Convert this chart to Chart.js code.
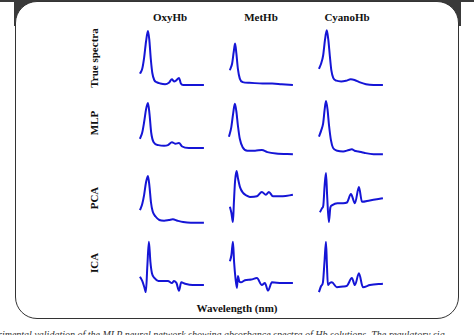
<!DOCTYPE html>
<html>
<head>
<meta charset="utf-8">
<script src="https://cdn.jsdelivr.net/npm/chart.js@4.4.1/dist/chart.umd.min.js"></script>
<style>
  html, body { margin: 0; padding: 0; }
  body { width: 474px; height: 335px; position: relative; overflow: hidden; background: #fff; font-family: "Liberation Serif", "DejaVu Serif", serif; }
  #topStrip { position: absolute; left: 0; top: 0; width: 474px; height: 2px; background: #3a3a3a; }
  #cornerFill { position: absolute; left: 14px; top: 0; width: 447px; height: 26px; background: #3a3a3a; }
  #frame { position: absolute; left: 15px; top: 1px; width: 442px; height: 316px; border: 1.5px solid #333; border-radius: 22px; background: #fff; }
  .lbl { position: absolute; font-weight: bold; font-size: 11px; color: #111; white-space: nowrap; }
  .col { transform: translateX(-50%); }
  .row { transform: translate(-50%, -50%) rotate(-90deg); }
  canvas { position: absolute; }
  #caption { position: absolute; left: -2px; top: 329px; font-style: italic; font-size: 10px; color: #333; white-space: nowrap; }
</style>
</head>
<body>
<div id="topStrip"></div>
<div id="cornerFill"></div>
<div id="frame"></div>
<div id="caption">rimental validation of the MLP neural network showing absorbance spectra of Hb solutions. The regulatory sig</div>

<script>
// column titles and row names
const hbTypes = ["OxyHb", "MetHb", "CyanoHb"];
const methods = ["True spectra", "MLP", "PCA", "ICA"];

// wavelength (nm) / normalised absorbance
const oxyTrueNm  = [373, 385, 395, 405, 415, 422, 430, 438, 448, 460, 480, 505, 525, 541, 552, 562, 578, 588, 600, 650, 709];
const oxyTrueAbs = [0.29, 0.36, 0.52, 0.75, 0.90, 0.78, 0.50, 0.30, 0.20, 0.17, 0.15, 0.14, 0.16, 0.21, 0.18, 0.19, 0.23, 0.15, 0.13, 0.13, 0.13];
const metTrueNm  = [378, 390, 398, 405, 412, 420, 430, 445, 480, 550, 600, 650, 709];
const metTrueAbs = [0.34, 0.44, 0.60, 0.72, 0.58, 0.36, 0.22, 0.17, 0.16, 0.15, 0.15, 0.14, 0.13];
const cyanoTrueNm  = [373, 385, 395, 405, 414, 422, 430, 438, 448, 465, 490, 515, 540, 560, 585, 620, 660, 709];
const cyanoTrueAbs = [0.36, 0.44, 0.55, 0.78, 0.91, 0.78, 0.55, 0.34, 0.23, 0.19, 0.18, 0.19, 0.21, 0.20, 0.17, 0.14, 0.13, 0.13];

const oxyMlpNm  = [373, 385, 395, 405, 415, 423, 432, 445, 470, 500, 520, 541, 560, 578, 595, 630, 709];
const oxyMlpAbs = [0.36, 0.45, 0.60, 0.78, 0.87, 0.72, 0.45, 0.31, 0.27, 0.26, 0.27, 0.31, 0.29, 0.30, 0.25, 0.23, 0.23];
const metMlpNm  = [373, 385, 395, 404, 412, 420, 430, 445, 470, 510, 546, 575, 620, 709];
const metMlpAbs = [0.39, 0.52, 0.72, 0.86, 0.75, 0.55, 0.36, 0.24, 0.19, 0.19, 0.20, 0.17, 0.15, 0.14];
const cyanoMlpNm  = [373, 385, 395, 403, 410, 418, 426, 436, 447, 470, 500, 530, 546, 560, 580, 610, 660, 709];
const cyanoMlpAbs = [0.39, 0.48, 0.58, 0.78, 0.90, 0.78, 0.55, 0.34, 0.23, 0.19, 0.18, 0.20, 0.21, 0.19, 0.18, 0.16, 0.14, 0.14];

const oxyPcaNm  = [373, 385, 395, 405, 415, 423, 431, 440, 455, 475, 500, 525, 546, 570, 600, 640, 709];
const oxyPcaAbs = [0.34, 0.43, 0.56, 0.74, 0.83, 0.68, 0.45, 0.32, 0.25, 0.20, 0.19, 0.20, 0.21, 0.19, 0.17, 0.16, 0.16];
const metPcaNm  = [378, 386, 394, 399, 405, 413, 420, 431, 446, 465, 483, 520, 546, 567, 583, 604, 656, 709];
const metPcaAbs = [0.39, 0.30, 0.17, 0.45, 0.75, 0.90, 0.80, 0.67, 0.59, 0.55, 0.53, 0.54, 0.60, 0.56, 0.60, 0.54, 0.54, 0.56];
const cyanoPcaNm  = [378, 390, 396, 403, 410, 416, 425, 433, 441, 470, 500, 520, 541, 562, 583, 599, 640, 709];
const cyanoPcaAbs = [0.31, 0.37, 0.41, 0.70, 0.87, 0.55, 0.17, 0.38, 0.41, 0.44, 0.44, 0.45, 0.57, 0.44, 0.67, 0.46, 0.48, 0.51];

const oxyIcaNm  = [373, 385, 396, 404, 412, 420, 428, 436, 450, 470, 500, 520, 541, 552, 565, 578, 590, 610, 650, 709];
const oxyIcaAbs = [0.39, 0.33, 0.24, 0.17, 0.55, 0.89, 0.60, 0.44, 0.37, 0.33, 0.33, 0.33, 0.30, 0.33, 0.30, 0.19, 0.31, 0.29, 0.27, 0.27];
const metIcaNm  = [378, 386, 394, 400, 408, 415, 420, 428, 436, 457, 490, 520, 546, 562, 578, 599, 650, 709];
const metIcaAbs = [0.61, 0.70, 0.89, 0.60, 0.35, 0.23, 0.40, 0.32, 0.31, 0.34, 0.35, 0.37, 0.27, 0.30, 0.19, 0.31, 0.30, 0.30];
const cyanoIcaNm  = [373, 385, 394, 402, 410, 415, 420, 430, 441, 467, 500, 520, 546, 562, 583, 604, 641, 709];
const cyanoIcaAbs = [0.17, 0.26, 0.31, 0.60, 0.89, 0.55, 0.27, 0.30, 0.31, 0.24, 0.25, 0.26, 0.37, 0.27, 0.44, 0.24, 0.27, 0.29];

const panels = [
  [[oxyTrueNm, oxyTrueAbs], [metTrueNm, metTrueAbs], [cyanoTrueNm, cyanoTrueAbs]],
  [[oxyMlpNm, oxyMlpAbs], [metMlpNm, metMlpAbs], [cyanoMlpNm, cyanoMlpAbs]],
  [[oxyPcaNm, oxyPcaAbs], [metPcaNm, metPcaAbs], [cyanoPcaNm, cyanoPcaAbs]],
  [[oxyIcaNm, oxyIcaAbs], [metIcaNm, metIcaAbs], [cyanoIcaNm, cyanoIcaAbs]]
];

// layout of the little plots
const colLeft = [135, 224, 314];
const rowTop = [24, 94, 164, 234];
const cellW = 75, cellH = 70;
const colTitleX = [170, 261, 347];
const rowLabelY = [58, 123, 198, 263];

function addLabel(text, cls, x, y) {
  const d = document.createElement('div');
  d.className = 'lbl ' + cls;
  d.textContent = text;
  d.style.left = x + 'px';
  d.style.top = y + 'px';
  document.body.appendChild(d);
}

hbTypes.forEach((t, i) => addLabel(t, 'col', colTitleX[i], 11));
methods.forEach((m, i) => addLabel(m, 'row', 94, rowLabelY[i]));
addLabel('Wavelength (nm)', 'col', 237, 302);

panels.forEach((row, r) => {
  row.forEach((series, c) => {
    const cv = document.createElement('canvas');
    cv.width = cellW;
    cv.height = cellH;
    cv.style.left = colLeft[c] + 'px';
    cv.style.top = rowTop[r] + 'px';
    document.body.appendChild(cv);

    const pts = series[0].map((nm, k) => ({ x: nm, y: series[1][k] }));
    new Chart(cv, {
      type: 'line',
      data: {
        datasets: [{
          data: pts,
          borderColor: '#1515d6',
          borderWidth: 2,
          pointRadius: 0,
          cubicInterpolationMode: 'monotone',
          fill: false,
          clip: false
        }]
      },
      options: {
        responsive: false,
        animation: false,
        layout: { padding: 0 },
        plugins: { legend: { display: false }, tooltip: { enabled: false } },
        scales: {
          x: { type: 'linear', min: 347, max: 741, display: false },
          y: { min: 0, max: 1, display: false }
        }
      }
    });
  });
});
</script>
</body>
</html>
